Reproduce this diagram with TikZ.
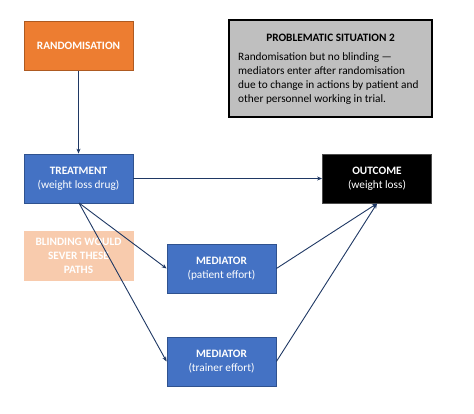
\documentclass[tikz,border=0pt]{standalone}
\usepackage{fontspec}
\setmainfont{Carlito}
\usetikzlibrary{arrows.meta}
\definecolor{orng}{HTML}{ED7D31}
\definecolor{orngd}{HTML}{AE5A21}
\definecolor{lorng}{HTML}{F8CBAD}
\definecolor{blu}{HTML}{4472C4}
\definecolor{blud}{HTML}{2F528F}
\definecolor{navy}{HTML}{1F3864}
\definecolor{gry}{HTML}{BFBFBF}
\begin{document}
\begin{tikzpicture}[x=1pt,y=-1pt,
  box/.style={draw, line width=0.8pt, minimum width=109pt, minimum height=49pt, inner sep=0pt, align=center, font=\fontsize{11.3}{14}\selectfont, text=white},
  bluebox/.style={box, fill=blu, draw=blud},
  arr/.style={draw=navy, line width=0.9pt, -{Stealth[length=5pt,width=4pt]}}]
\useasboundingbox (0,0) rectangle (474,413);
\node[box, fill=orng, draw=orngd] (rand) at (78.5,46) {\textbf{RANDOMISATION}};
\node[bluebox] (treat) at (78.5,178.5) {\textbf{TREATMENT}\\(weight loss drug)};
\node[box, fill=black, draw=black!70] (out) at (377,178.5) {\textbf{OUTCOME}\\(weight loss)};
\node[box, fill=lorng, draw=lorng] (blind) at (78.5,256) {\textbf{BLINDING WOULD}\\\textbf{SEVER THESE}\\\textbf{PATHS}};
\node[bluebox] (pat) at (221.5,268.5) {\textbf{MEDIATOR}\\(patient effort)};
\node[bluebox] (tra) at (221.5,361.5) {\textbf{MEDIATOR}\\(trainer effort)};
\node[draw=black, line width=1.2pt, fill=gry, minimum width=203pt, minimum height=97pt, inner sep=0pt] (prob) at (330.5,68.5) {};
\node[font=\bfseries\fontsize{11.3}{14}\selectfont] (probt) at (330.5,38) {PROBLEMATIC SITUATION 2};
\node[anchor=north west, align=left, inner sep=0pt, font=\fontsize{11.3}{14}\selectfont] (probb) at (238,52) {Randomisation but no blinding ---\\mediators enter after randomisation\\due to change in actions by patient and\\other personnel working in trial.};
\coordinate (tb) at (79,203);
\coordinate (ob) at (377,203.5);
\draw[arr] (rand.south) -- (treat.north);
\draw[arr] (treat.east) -- (out.west);
\draw[arr] (tb) -- (pat.west);
\draw[arr] (tb) -- (tra.west);
\draw[arr] (pat.east) -- (ob);
\draw[arr] (tra.east) -- (ob);
\end{tikzpicture}
\end{document}
